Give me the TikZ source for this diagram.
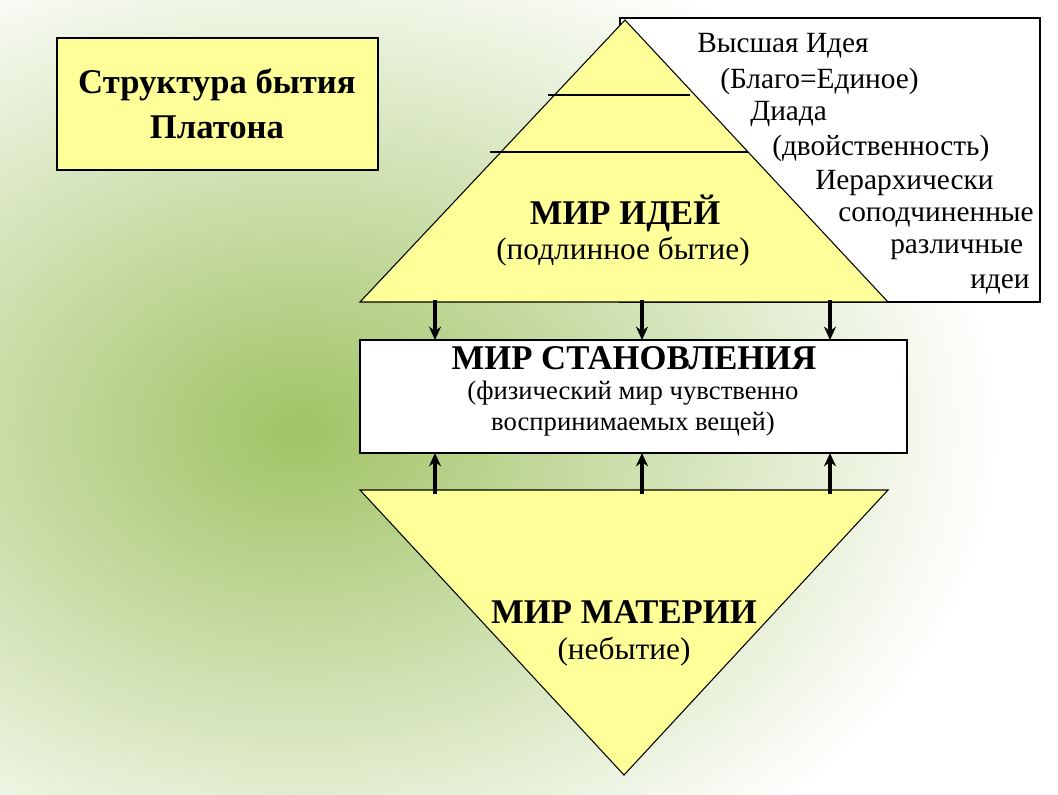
\documentclass[tikz,border=0pt]{standalone}
\usepackage{fontspec}
\setmainfont{Liberation Serif}
\usetikzlibrary{arrows.meta}
\definecolor{ylw}{RGB}{255,255,153}
\definecolor{grn}{RGB}{160,195,100}
\tikzset{
  shapebox/.style={draw=black, line width=0.8pt},
  txt/.style={font=\fontsize{22}{25}\selectfont, anchor=west, inner sep=0pt},
  head/.style={font=\bfseries\fontsize{26}{30}\selectfont, inner sep=0pt},
  sub/.style={font=\fontsize{23.5}{27}\selectfont, inner sep=0pt},
  smallsub/.style={font=\fontsize{20}{23}\selectfont, inner sep=0pt},
  arr/.style={line width=3pt, -{Stealth[length=10pt,width=9pt]}}
}
\begin{document}
\begin{tikzpicture}[x=0.75pt,y=-0.75pt]
\useasboundingbox (0,0) rectangle (1058,794);
\fill[white] (0,0) rectangle (1058,794);
\shade[inner color=grn, outer color=white] (300,430) ellipse [x radius=700, y radius=520];
% title
\draw[shapebox, fill=ylw] (57,38) rectangle (378,170);
\node[head, align=center] (title) at (217,104) {Структура бытия\\[4pt]Платона};
% text box
\draw[shapebox, fill=white] (620,18) rectangle (1040,302);
\node[txt] (t1) at (697,46) {Высшая Идея};
\node[txt] (t2) at (720,81) {(Благо=Единое)};
\node[txt] (t3) at (750,114) {Диада};
\node[txt] (t4) at (772,148) {(двойственность)};
\node[txt] (t5) at (815,183) {Иерархически};
\node[txt] (t6) at (838,217) {соподчиненные};
\node[txt] (t7) at (890,250) {различные};
\node[txt] (t8) at (970,284) {идеи};
% top triangle
\draw[shapebox, fill=ylw] (625,20) -- (888,302) -- (360,302) -- cycle;
\draw[line width=0.8pt] (548,95) -- (690,95);
\draw[line width=0.8pt] (490,152) -- (748,152);
\node[head] (ideas) at (625,213) {МИР ИДЕЙ};
\node[sub] (ideas2) at (623,252) {(подлинное бытие)};
% middle box
\draw[shapebox, fill=white] (360,340) rectangle (907,453);
\node[head] (mid) at (634,358) {МИР СТАНОВЛЕНИЯ};
\node[smallsub] (mid2) at (633,393) {(физический мир чувственно};
\node[smallsub] (mid3) at (633,424) {воспринимаемых вещей)};
% bottom triangle
\draw[shapebox, fill=ylw] (360,490) -- (888,490) -- (624,775) -- cycle;
\node[head] (mat) at (624,612) {МИР МАТЕРИИ};
\node[sub] (mat2) at (624,652) {(небытие)};
% arrows
\foreach \x/\n in {435/a,642/b,830/c}{
  \coordinate (d\n1) at (\x,300); \coordinate (d\n2) at (\x,340);
  \coordinate (u\n1) at (\x,494); \coordinate (u\n2) at (\x,453);
  \draw[arr] (d\n1) -- (d\n2);
  \draw[arr] (u\n1) -- (u\n2);
}
\end{tikzpicture}
\end{document}
